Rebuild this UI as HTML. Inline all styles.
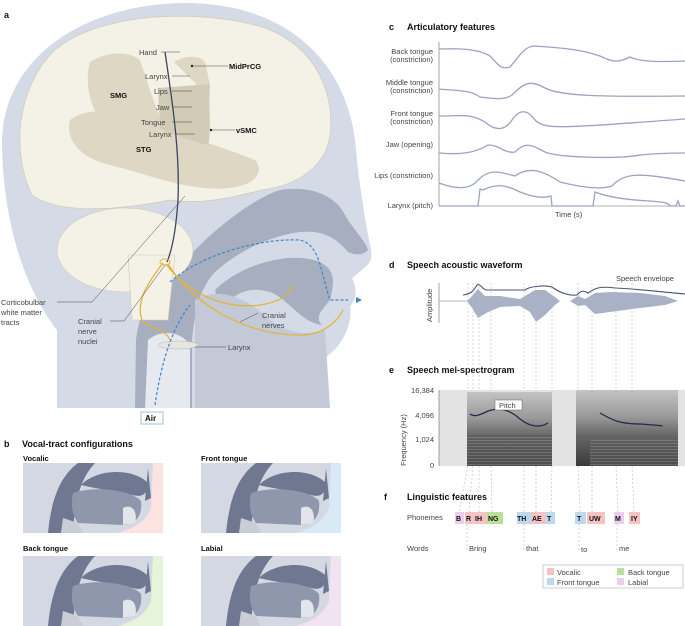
<!DOCTYPE html>
<html><head><meta charset="utf-8"><style>
body{margin:0;background:#fff}
svg{display:block;font-family:"Liberation Sans",sans-serif}
.t{font-size:7.5px;fill:#444}
.b{font-weight:bold;fill:#111}
.h{font-size:9px;font-weight:bold;fill:#111}
.c{fill:none;stroke:#9aa4bf;stroke-width:1.3}
.dl{stroke:#bbb;stroke-width:.6;stroke-dasharray:2,2}
</style></head><body>
<svg width="685" height="626" viewBox="0 0 685 626" xmlns="http://www.w3.org/2000/svg">
<defs>
<pattern id="str" width="4" height="3" patternUnits="userSpaceOnUse"><rect width="4" height="3" fill="#5a5a5a"/><rect y="2" width="4" height="1" fill="#888"/></pattern>
<linearGradient id="sg" x1="0" y1="0" x2="0" y2="1"><stop offset="0" stop-color="#c4c4c4"/><stop offset=".35" stop-color="#999"/><stop offset=".6" stop-color="#666"/><stop offset="1" stop-color="#3a3a3a"/></linearGradient>
<g id="vt">
<rect x="0" y="0" width="140" height="70" fill="#d3d8e3"/>
<path d="M25,70 C28,40 35,15 55,0 L72,0 C58,15 52,35 50,70 Z" fill="#6f7890"/>
<path d="M58,22 C75,5 110,5 125,20 C125,30 120,35 110,32 C90,28 70,25 58,22 Z" fill="#6f7890"/>
<path d="M50,30 C75,22 110,28 118,38 C120,55 110,62 100,62 L55,60 C48,50 48,40 50,30 Z" fill="#8e97ab"/>
<path d="M40,55 L55,60 L60,70 L38,70 Z" fill="#c9cdd6"/>
<path d="M100,45 C110,40 115,50 112,60 L100,62 Z" fill="#e2e5ec"/>
<path d="M125,5 L128,35 L122,38 Z" fill="#6f7890"/>
</g>
</defs>
<!-- panel a -->
<text x="4" y="18" class="h">a</text>
<path d="M57,408 L57,330 C25,290 2,220 2,140 C4,60 80,4 185,3 C285,3 345,60 355,140 L358,170 C362,200 366,225 370,245 C373,258 372,262 362,270 L352,278 C358,290 356,300 350,306 C352,318 348,330 342,340 C335,352 327,355 322,362 C320,380 326,395 330,408 Z" fill="#d5dbe6"/>
<path d="M180,266 C210,232 250,200 280,190 C310,185 335,195 345,215 C355,232 365,240 368,250 C362,256 355,255 348,252 C335,236 320,230 300,232 C270,236 240,250 215,272 C200,288 195,310 192,340 L192,408 L135,408 L136,340 C140,305 158,280 180,266 Z" fill="#a7aec0"/>
<path d="M215,290 C240,265 290,250 320,262 C335,270 335,280 330,300 C320,312 315,318 322,325 C300,322 290,300 270,292 C250,286 235,292 220,310 Z" fill="#a7aec0"/>
<path d="M195,300 C220,285 250,300 270,320 C290,335 310,335 325,330 L330,408 L195,408 Z" fill="#c3c9d6"/>
<path d="M148,340 C160,330 180,330 190,345 L190,408 L145,408 Z" fill="#e6e9ef"/>
<ellipse cx="178" cy="345" rx="20" ry="4" fill="#e6e6e0" stroke="#b8b8b0" stroke-width=".5"/>
<ellipse cx="125" cy="250" rx="68" ry="42" fill="#f4f1e6" stroke="#cfcab8" stroke-width=".6"/>
<path d="M128,255 L175,255 L168,320 L132,320 Z" fill="#f4f1e6" stroke="#cfcab8" stroke-width=".6"/>
<path d="M32,195 C10,150 18,85 55,50 C100,12 200,8 265,28 C320,48 335,100 330,135 C326,165 300,185 262,190 C230,198 200,205 170,200 C120,210 60,215 32,195 Z" fill="#f4f1e6" stroke="#cfcab8" stroke-width=".7"/>
<path d="M90,62 C110,50 130,52 140,60 L150,90 C160,120 170,140 175,150 C150,145 120,130 100,120 C88,100 85,80 90,62 Z" fill="#ddd7c4"/>
<path d="M70,120 C90,105 130,110 160,128 C200,140 230,150 255,160 C265,172 255,185 230,188 C190,192 150,175 110,165 C80,158 65,140 70,120 Z" fill="#ddd7c4"/>
<path d="M174,62 C185,55 200,55 205,62 L210,85 L200,88 Z" fill="#ddd7c4"/>
<path d="M158,88 L210,84 C208,110 212,130 208,145 C190,140 170,135 160,128 Z" fill="#d2ccb6"/>
<path d="M165,52 C172,100 180,150 178,200 C176,230 172,250 167,262" fill="none" stroke="#3d4660" stroke-width="1.3"/>
<ellipse cx="165" cy="262" rx="5" ry="3" fill="none" stroke="#e2b43a" stroke-width="1"/>
<g fill="none" stroke="#e2b43a" stroke-width="1.3">
<path d="M163,263 C150,280 135,300 142,320 C150,330 165,328 170,340"/>
<path d="M166,264 C185,290 220,310 260,305 C280,302 290,295 293,285"/>
<path d="M168,264 C190,300 240,335 300,335 C325,335 338,320 343,310"/>
</g>
<path d="M170,282 C200,255 260,238 300,240 C320,245 320,270 330,300 L348,300" fill="none" stroke="#3a86c6" stroke-width="1.2" stroke-dasharray="3,2"/>
<path d="M155,405 C160,370 170,330 190,305" fill="none" stroke="#3a86c6" stroke-width="1.2" stroke-dasharray="3,2"/>
<path d="M356,297 L362,300 L356,303 Z" fill="#3a86c6"/>
<g class="t">
<text x="139" y="55">Hand</text><text x="145" y="79">Larynx</text><text x="154" y="94">Lips</text>
<text x="156" y="110">Jaw</text><text x="141" y="125">Tongue</text><text x="149" y="137">Larynx</text>
<text x="110" y="98" class="b">SMG</text><text x="136" y="152" class="b">STG</text>
<text x="229" y="69" class="b">MidPrCG</text><text x="236" y="133" class="b">vSMC</text>
<text x="1" y="305">Corticobulbar</text><text x="1" y="315">white matter</text><text x="1" y="325">tracts</text>
<text x="78" y="324">Cranial</text><text x="78" y="334">nerve</text><text x="78" y="344">nuclei</text>
<text x="262" y="318">Cranial</text><text x="262" y="328">nerves</text>
<text x="228" y="350">Larynx</text>
</g>
<g stroke="#444" stroke-width=".5">
<line x1="161" y1="52" x2="180" y2="52"/><line x1="172" y1="76" x2="190" y2="76"/><line x1="172" y1="91" x2="192" y2="91"/><line x1="173" y1="107" x2="192" y2="107"/><line x1="172" y1="122" x2="192" y2="122"/><line x1="176" y1="134" x2="195" y2="134"/>
<line x1="192" y1="66" x2="228" y2="66"/><line x1="211" y1="130" x2="235" y2="130"/>
<line x1="57" y1="302" x2="92" y2="302"/><line x1="92" y1="302" x2="185" y2="196"/>
<line x1="110" y1="321" x2="124" y2="321"/><line x1="124" y1="321" x2="165" y2="265"/>
<line x1="195" y1="347" x2="226" y2="347"/><line x1="240" y1="322" x2="258" y2="313"/>
</g>
<circle cx="192" cy="66" r="1.2" fill="#222"/><circle cx="211" cy="130" r="1.2" fill="#222"/>
<rect x="141" y="412" width="22" height="12" fill="#fff" stroke="#8fb3d6" stroke-width=".8"/>
<text x="145" y="421" font-size="8" class="b">Air</text>

<!-- panel b -->
<text x="4" y="447" class="h" font-size="10">b</text>
<text x="22" y="447" class="h">Vocal-tract configurations</text>
<g font-size="7.5" class="b">
<text x="23" y="461">Vocalic</text><text x="201" y="461">Front tongue</text>
<text x="23" y="551">Back tongue</text><text x="201" y="551">Labial</text>
</g>
<g transform="translate(23,463)"><use href="#vt"/><path d="M130,0 L140,0 L140,70 L95,70 C110,65 122,60 128,45 Z" fill="#fde2e2"/></g>
<g transform="translate(201,463)"><use href="#vt"/><path d="M130,0 L140,0 L140,70 L95,70 C110,65 122,60 128,45 Z" fill="#d9e9f5"/></g>
<g transform="translate(23,556)"><use href="#vt"/><path d="M130,0 L140,0 L140,70 L95,70 C110,65 122,60 128,45 Z" fill="#e6f4da"/></g>
<g transform="translate(201,556)"><use href="#vt"/><path d="M130,0 L140,0 L140,70 L95,70 C110,65 122,60 128,45 Z" fill="#f2e3f3"/></g>

<!-- panel c -->
<text x="389" y="30" class="h" font-size="10">c</text>
<text x="407" y="30" class="h">Articulatory features</text>
<line x1="439" y1="42" x2="439" y2="206" stroke="#666" stroke-width=".6"/>
<line x1="439" y1="206" x2="685" y2="206" stroke="#666" stroke-width=".6"/>
<g class="t" font-size="6.5" text-anchor="end" fill="#666">
<text x="433" y="54">Back tongue</text><text x="433" y="62">(constriction)</text>
<text x="433" y="85">Middle tongue</text><text x="433" y="93">(constriction)</text>
<text x="433" y="116">Front tongue</text><text x="433" y="124">(constriction)</text>
<text x="433" y="147">Jaw (opening)</text>
<text x="433" y="178">Lips (constriction)</text>
<text x="433" y="208">Larynx (pitch)</text>
</g>
<text x="555" y="217" class="t" font-size="7">Time (s)</text>
<g class="c">
<path d="M439,49 C465,48 480,50 490,56 C498,64 500,70 510,67 C520,55 525,46 535,46 C560,48 580,49 600,56 C612,62 618,63 630,57 C640,62 660,62 685,61"/>
<path d="M439,89 C460,91 470,90 480,97 C495,99 505,100 512,95 C525,82 530,80 545,88 C560,96 600,97 685,96"/>
<path d="M439,116 C460,116 470,113 485,122 C495,131 505,131 512,120 C520,108 528,110 535,120 C545,130 560,128 685,119"/>
<path d="M439,153 C460,155 475,153 488,145 C500,145 505,154 515,152 C525,142 530,144 545,152 C560,158 620,159 640,155 C660,153 685,153 685,153"/>
<path d="M439,183 C455,189 470,190 478,180 C490,168 500,172 515,176 C530,165 545,172 560,182 C580,187 600,190 612,186 C625,172 640,173 685,181"/>
<path d="M439,206 L478,206 L480,189 L483,190 C495,184 505,184 520,192 C535,198 545,198 551,196 L552,206 L593,206 L595,192 C610,198 630,200 650,201 C660,202 668,202 670,206 L676,206 L678,201 L680,206 L685,206"/>
</g>

<!-- panel d -->
<text x="389" y="268" class="h" font-size="10">d</text>
<text x="407" y="268" class="h">Speech acoustic waveform</text>
<text x="616" y="281" class="t" font-size="7.5">Speech envelope</text>
<text transform="translate(432,322) rotate(-90)" class="t" font-size="7">Amplitude</text>
<line x1="439" y1="283" x2="439" y2="323" stroke="#666" stroke-width=".6"/>
<line x1="439" y1="301" x2="470" y2="301" stroke="#9aa4bf" stroke-width=".8"/>
<path d="M467,301 L472,296 L478,289 L485,296 L500,296 L520,299 L525,296 L535,290 L545,290 L555,297 L560,301 L570,301 L578,296 L585,299 L595,293 L610,292 L640,293 L665,296 L678,301 L665,305 L640,308 L610,312 L595,314 L585,305 L578,306 L570,301 L560,301 L555,305 L545,315 L536,322 L530,312 L520,306 L500,307 L488,312 L478,318 L472,308 Z" fill="#a9b1c6"/>
<path d="M463,295 C470,294 473,292 477,285 C480,283 482,289 486,290 L525,290 C530,286 545,285 552,287 C560,293 570,296 577,295 C580,291 584,290 588,293 C595,288 600,286 615,288 C640,289 660,292 685,294" fill="none" stroke="#4a5470" stroke-width="1.1"/>

<!-- panel e -->
<text x="389" y="373" class="h" font-size="10">e</text>
<text x="407" y="373" class="h">Speech mel-spectrogram</text>
<text transform="translate(406,440) rotate(-90)" class="t" font-size="7" text-anchor="middle">Frequency (Hz)</text>
<g class="t" font-size="6.5" text-anchor="end" fill="#777">
<text x="434" y="393">16,384</text><text x="434" y="418">4,096</text><text x="434" y="442">1,024</text><text x="434" y="468">0</text>
</g>
<rect x="439" y="390" width="246" height="76" fill="#e3e3e3"/>
<rect x="467" y="392" width="85" height="74" fill="url(#sg)"/>
<rect x="576" y="390" width="102" height="76" fill="url(#sg)"/>
<rect x="467" y="435" width="85" height="31" fill="url(#str)" opacity=".6"/>
<rect x="590" y="440" width="88" height="26" fill="url(#str)" opacity=".6"/>
<line x1="439" y1="390" x2="439" y2="466" stroke="#666" stroke-width=".6"/>
<path d="M470,414 C474,417 478,416 488,411 C500,407 510,410 520,419 C530,427 540,428 548,423" fill="none" stroke="#1f2d4d" stroke-width="1.3"/>
<path d="M600,413 C612,420 620,424 640,424 C655,425 665,426 661,426" fill="none" stroke="#1f2d4d" stroke-width="1.3"/>
<rect x="495" y="400" width="27" height="10" fill="#fff" stroke="#666" stroke-width=".5"/>
<text x="499" y="408" class="t" font-size="7">Pitch</text>

<g class="dl">
<line x1="468" y1="283" x2="468" y2="390"/><line x1="473" y1="283" x2="473" y2="390"/><line x1="479" y1="283" x2="479" y2="390"/><line x1="491" y1="283" x2="491" y2="390"/>
<line x1="524" y1="283" x2="524" y2="390"/><line x1="536" y1="283" x2="536" y2="390"/><line x1="552" y1="283" x2="552" y2="390"/><line x1="578" y1="283" x2="578" y2="390"/>
<line x1="592" y1="283" x2="592" y2="390"/><line x1="616" y1="283" x2="616" y2="390"/><line x1="632" y1="283" x2="632" y2="390"/>
<line x1="468" y1="466" x2="459" y2="512"/><line x1="473" y1="466" x2="469" y2="512"/><line x1="479" y1="466" x2="479" y2="512"/><line x1="491" y1="466" x2="492" y2="512"/>
<line x1="524" y1="466" x2="524" y2="512"/><line x1="536" y1="466" x2="536" y2="512"/><line x1="552" y1="466" x2="551" y2="512"/><line x1="578" y1="466" x2="580" y2="512"/>
<line x1="592" y1="466" x2="592" y2="512"/><line x1="616" y1="466" x2="618" y2="512"/><line x1="632" y1="466" x2="634" y2="512"/>
<line x1="467" y1="524" x2="467" y2="552"/><line x1="524" y1="524" x2="524" y2="552"/><line x1="579" y1="524" x2="579" y2="552"/><line x1="617" y1="524" x2="617" y2="552"/>
</g>

<!-- panel f -->
<text x="384" y="500" class="h" font-size="10">f</text>
<text x="407" y="500" class="h">Linguistic features</text>
<text x="407" y="520" class="t" font-size="7.5">Phonemes</text>
<text x="407" y="551" class="t" font-size="7.5">Words</text>
<rect x="455" y="512" width="9" height="12" fill="#eccdee"/>
<rect x="465" y="512" width="9" height="12" fill="#f6c3c3"/>
<rect x="474" y="512" width="13" height="12" fill="#f6c3c3"/>
<rect x="487" y="512" width="16" height="12" fill="#b9e09a"/>
<rect x="517" y="512" width="14" height="12" fill="#bcd9ef"/>
<rect x="531" y="512" width="15" height="12" fill="#f6c3c3"/>
<rect x="546" y="512" width="9" height="12" fill="#bcd9ef"/>
<rect x="575" y="512" width="11" height="12" fill="#bcd9ef"/>
<rect x="587" y="512" width="18" height="12" fill="#f6c3c3"/>
<rect x="614" y="512" width="10" height="12" fill="#eccdee"/>
<rect x="629" y="512" width="11" height="12" fill="#f6c3c3"/>
<g font-size="7" class="b">
<text x="456" y="521">B</text><text x="466" y="521">R</text><text x="475" y="521">IH</text><text x="488" y="521">NG</text>
<text x="517" y="521">TH</text><text x="532" y="521">AE</text><text x="547" y="521">T</text>
<text x="577" y="521">T</text><text x="589" y="521">UW</text><text x="615" y="521">M</text><text x="631" y="521">IY</text>
</g>
<g class="t">
<text x="469" y="551">Bring</text><text x="526" y="551">that</text><text x="581" y="552">to</text><text x="619" y="551">me</text>
</g>
<rect x="543" y="565" width="140" height="23" fill="#fff" stroke="#aaa" stroke-width=".6"/>
<rect x="547" y="568" width="7" height="7" fill="#f6c3c3"/><text x="557" y="575" class="t">Vocalic</text>
<rect x="547" y="578" width="7" height="7" fill="#bcd9ef"/><text x="557" y="585" class="t">Front tongue</text>
<rect x="617" y="568" width="7" height="7" fill="#b9e09a"/><text x="628" y="575" class="t">Back tongue</text>
<rect x="617" y="578" width="7" height="7" fill="#eccdee"/><text x="628" y="585" class="t">Labial</text>
</svg>
</body></html>
